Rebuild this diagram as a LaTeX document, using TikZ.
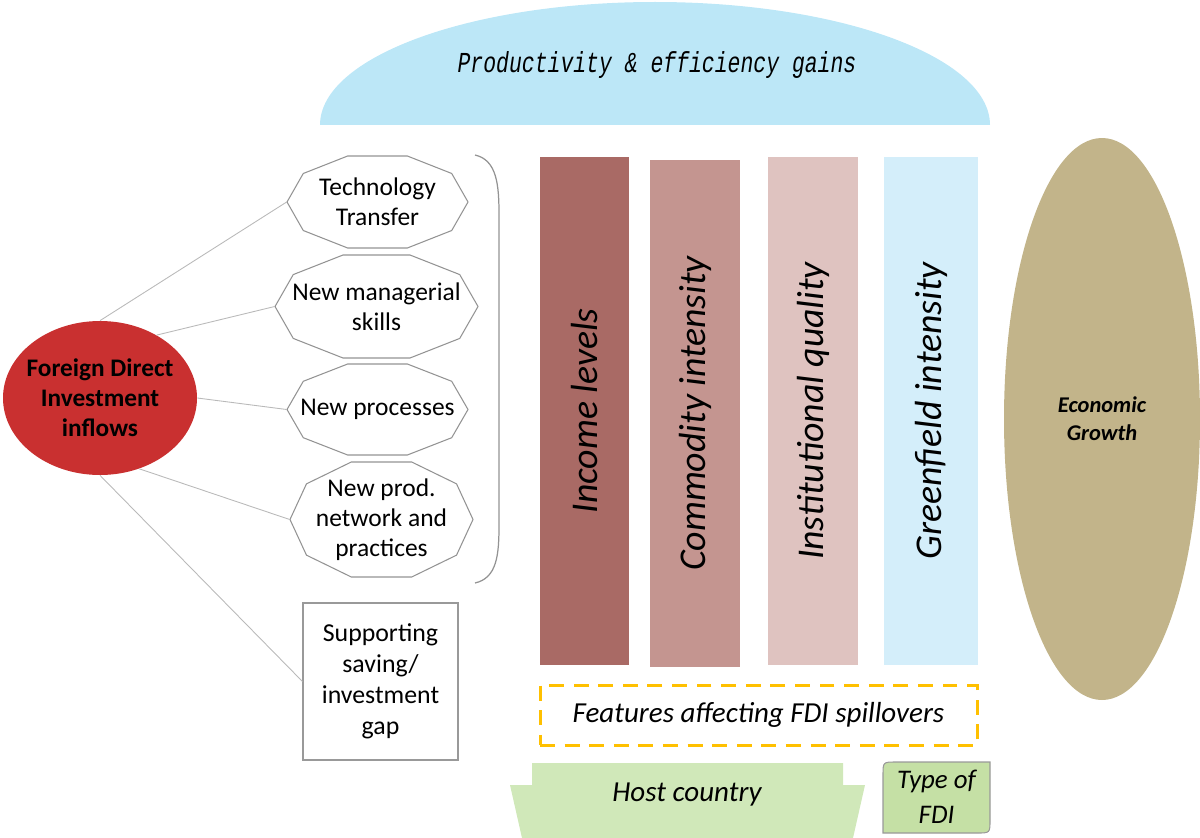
\documentclass[tikz,border=0pt]{standalone}
\usepackage{fontspec}
\setmainfont{Carlito}
\newfontfamily\domefont{Liberation Mono}
\usetikzlibrary{shapes.geometric,calc}
\definecolor{domeblue}{RGB}{188,231,247}
\definecolor{fdired}{RGB}{201,48,48}
\definecolor{barA}{RGB}{169,106,101}
\definecolor{barB}{RGB}{196,149,144}
\definecolor{barC}{RGB}{223,195,192}
\definecolor{barD}{RGB}{212,238,250}
\definecolor{featorange}{RGB}{255,192,0}
\definecolor{hostgreen}{RGB}{208,232,185}
\definecolor{typegreen}{RGB}{197,224,165}
\definecolor{egbrown}{RGB}{194,180,138}
\newcommand\decanode[6]{%
  \begin{scope}[shift={(#2,#3)}, xscale=#4/2, yscale=#5/2]
    \draw[octline] (-1,0) -- (-0.82,-0.62) -- (-0.33,-1) -- (0.33,-1) -- (0.82,-0.62)
      -- (1,0) -- (0.82,0.62) -- (0.33,1) -- (-0.33,1) -- (-0.82,0.62) -- cycle;
  \end{scope}
  \node[octtext, minimum width=#4*0.02cm, minimum height=#5*0.02cm] (#1) at (#2,#3) {#6};
}
\begin{document}
\begin{tikzpicture}[x=0.02cm, y=-0.02cm,
  octtext/.style={align=center, inner sep=0pt, font=\fontsize{14.5}{17}\selectfont},
  octline/.style={draw=gray!85, line width=0.6pt},
  conn/.style={draw=gray!55, line width=0.5pt},
  bar/.style={rotate=90, inner sep=0pt, minimum width=508*0.02cm,
    font=\fontsize{21.5}{26}\selectfont\itshape},
  boxtext/.style={align=center, font=\fontsize{14.7}{17.6}\selectfont}]
\useasboundingbox (0,0) rectangle (1200,838);

% dome
\fill[domeblue] (320,125) arc[start angle=180, end angle=360, x radius=335, y radius=123] -- cycle;
\node[font=\domefont\itshape\fontsize{12.2}{14}\selectfont] (prodgain) at (657,65) {\scalebox{1}[1.35]{Productivity \& efficiency gains}};

% FDI ellipse
\node[ellipse, fill=fdired, inner sep=0pt, minimum width=194*0.02cm, minimum height=154*0.02cm,
  label={[align=center, font=\bfseries\fontsize{14.4}{17}\selectfont]center:Foreign Direct\\Investment\\inflows}] (fdi) at (100,398) {};

% decagons
\decanode{tech}{377.5}{202}{181}{92}{Technology\\Transfer}
\decanode{mgr}{376.5}{306.5}{203}{103}{New managerial\\skills}
\decanode{proc}{377.5}{409.5}{181}{91}{New processes}
\decanode{prod}{381.5}{519.5}{183}{115}{New prod.\\network and\\practices}

% supporting box
\node[boxtext, draw=gray!80, line width=0.6pt, minimum width=155*0.02cm, minimum height=157*0.02cm] (supp) at (380.5,681.5) {Supporting\\saving/\\investment\\gap};

% connectors
\draw[conn] (fdi.north) -- (tech.west);
\draw[conn] (fdi.48) -- (mgr.west);
\draw[conn] (fdi.east) -- (proc.west);
\draw[conn] (fdi.-61) -- (prod.west);
\draw[conn] (fdi.south) -- (supp.west);

% bracket
\draw[draw=gray!85, line width=0.7pt] (475,155) .. controls (497,160) and (499,185) .. (499,215)
  -- (499,525) .. controls (499,555) and (497,578) .. (475,583);

% bars
\node[bar, fill=barA, minimum height=89*0.02cm] (income) at (584.5,411) {Income levels};
\node[bar, fill=barB, minimum height=90*0.02cm, minimum width=507*0.02cm] (commod) at (695,413.5) {Commodity intensity};
\node[bar, fill=barC, minimum height=90*0.02cm] (instit) at (813,411) {Institutional quality};
\node[bar, fill=barD, minimum height=94*0.02cm] (green) at (931,411) {Greenfield intensity};

% features dashed box
\node[draw=featorange, line width=1.7pt, dash pattern=on 8.5pt off 5.5pt,
  minimum width=437*0.02cm, minimum height=60*0.02cm,
  font=\fontsize{16.5}{20}\selectfont\itshape] (feat) at (758.5,715) {Features affecting FDI spillovers};

% host country banner
\fill[hostgreen] (510,785) -- (532,785) -- (532,763) -- (843,763) -- (843,785) -- (865,785)
  -- (853,838) -- (522,838) -- cycle;
\node[font=\fontsize{16.5}{20}\selectfont\itshape] (host) at (687,795) {Host country};

% type of FDI
\draw[fill=typegreen, draw=gray!80, line width=0.6pt] (883,833) -- (883,775) .. controls (883,762) .. (896,762)
  -- (990,762) -- (990,820) .. controls (990,833) .. (977,833) -- cycle;
\node[align=center, font=\fontsize{15.3}{20}\selectfont\itshape] (typefdi) at (936.5,797) {Type of\\FDI};

% economic growth
\node[ellipse, fill=egbrown, inner sep=0pt, minimum width=196*0.02cm, minimum height=562*0.02cm,
  align=center, font=\bfseries\itshape\fontsize{12.8}{16}\selectfont] (eg) at (1102,419) {Economic\\Growth};
\end{tikzpicture}
\end{document}
